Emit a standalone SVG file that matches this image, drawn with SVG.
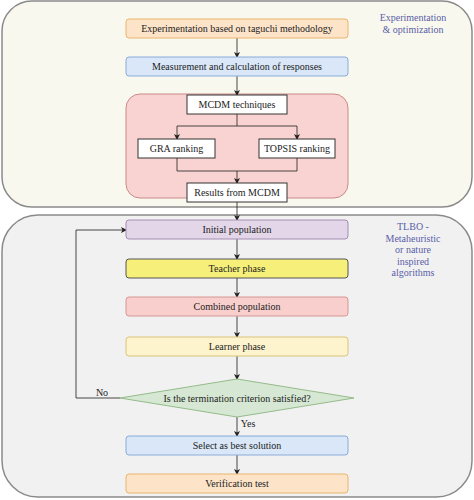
<svg xmlns="http://www.w3.org/2000/svg" width="474" height="500" viewBox="0 0 474 500">
<defs>
<marker id="ah" markerWidth="6" markerHeight="6" refX="5" refY="3" orient="auto" markerUnits="userSpaceOnUse">
<path d="M0,0 L6,3 L0,6 L1.5,3 Z" fill="#222"/>
</marker>
<style>
text{font-family:"Liberation Serif","DejaVu Serif",serif;font-size:10px;fill:#222;text-anchor:middle}
.side{fill:#5a5fa8;font-size:10px}
.cont{stroke:#8a8a8a;stroke-width:1.5}
.box{stroke-width:1}
.c{fill:none;stroke:#333;stroke-width:0.9}
</style>
</defs>
<rect width="474" height="500" fill="#ffffff"/>
<g id="container-top">
<rect class="cont" x="2" y="1" width="470" height="206" rx="30" ry="30" fill="#f9f8ee"/>
<text class="side" x="413" y="21">Experimentation</text>
<text class="side" x="413" y="33">&amp; optimization</text>
</g>
<g id="container-bottom">
<rect class="cont" x="2" y="215" width="470" height="282" rx="36" ry="36" fill="#f1f1f1"/>
<text class="side" x="413" y="230">TLBO -</text>
<text class="side" x="413" y="241.5">Metaheuristic</text>
<text class="side" x="413" y="253">or nature</text>
<text class="side" x="413" y="264.5">inspired</text>
<text class="side" x="413" y="276">algorithms</text>
</g>
<g id="mcdm-group">
<rect x="126" y="94" width="222" height="104" rx="14" ry="14" fill="#f9d3d1" stroke="#c98a86" stroke-width="1"/>
</g>
<g id="connectors">
<line class="c" x1="237" y1="38" x2="237" y2="57" marker-end="url(#ah)"/>
<line class="c" x1="237" y1="76" x2="237" y2="95" marker-end="url(#ah)"/>
<polyline class="c" points="237,114 237,126 177,126 177,139" marker-end="url(#ah)"/>
<polyline class="c" points="237,126 297,126 297,139" marker-end="url(#ah)"/>
<polyline class="c" points="177,158 177,171 297,171 297,158"/>
<line class="c" x1="237" y1="171" x2="237" y2="183" marker-end="url(#ah)"/>
<line class="c" x1="237" y1="202" x2="237" y2="220" marker-end="url(#ah)"/>
<line class="c" x1="237" y1="239" x2="237" y2="259" marker-end="url(#ah)"/>
<line class="c" x1="237" y1="278" x2="237" y2="297" marker-end="url(#ah)"/>
<line class="c" x1="237" y1="316" x2="237" y2="337" marker-end="url(#ah)"/>
<line class="c" x1="237" y1="356" x2="237" y2="379" marker-end="url(#ah)"/>
<polyline class="c" points="120,398 76,398 76,230 126,230" marker-end="url(#ah)" stroke="#666"/>
<line class="c" x1="237" y1="417" x2="237" y2="436" marker-end="url(#ah)"/>
<line class="c" x1="237" y1="455" x2="237" y2="474" marker-end="url(#ah)"/>
<text x="102" y="396">No</text>
<text x="248" y="427">Yes</text>
</g>
<g id="n-experimentation">
<rect class="box" x="126" y="19" width="222" height="19" rx="3" fill="#fde4c8" stroke="#e9b46e"/>
<text x="237" y="32">Experimentation based on taguchi methodology</text>
</g>
<g id="n-measurement">
<rect class="box" x="126" y="57" width="222" height="19" rx="3" fill="#d9e7f8" stroke="#8aabd9"/>
<text x="237" y="70">Measurement and calculation of responses</text>
</g>
<g id="n-mcdm">
<rect class="box" x="187" y="95" width="100" height="19" fill="#ffffff" stroke="#333"/>
<text x="237" y="108">MCDM techniques</text>
</g>
<g id="n-gra">
<rect class="box" x="138" y="139" width="77" height="19" fill="#ffffff" stroke="#333"/>
<text x="176.5" y="152">GRA ranking</text>
</g>
<g id="n-topsis">
<rect class="box" x="259" y="139" width="76" height="19" fill="#ffffff" stroke="#333"/>
<text x="297" y="152">TOPSIS ranking</text>
</g>
<g id="n-results">
<rect class="box" x="187" y="183" width="100" height="19" fill="#ffffff" stroke="#333"/>
<text x="237" y="196">Results from MCDM</text>
</g>
<g id="n-initial">
<rect class="box" x="126" y="220" width="222" height="19" rx="3" fill="#e2d6e8" stroke="#a58db5"/>
<text x="237" y="233">Initial population</text>
</g>
<g id="n-teacher">
<rect class="box" x="126" y="259" width="222" height="19" rx="3" fill="#f6f07a" stroke="#555"/>
<text x="237" y="272">Teacher phase</text>
</g>
<g id="n-combined">
<rect class="box" x="126" y="297" width="222" height="19" rx="3" fill="#f9cfcd" stroke="#d49794"/>
<text x="237" y="310">Combined population</text>
</g>
<g id="n-learner">
<rect class="box" x="126" y="337" width="222" height="19" rx="3" fill="#fdf3cc" stroke="#dcc27a"/>
<text x="237" y="350">Learner phase</text>
</g>
<g id="n-decision">
<polygon points="237,379 354,398 237,417 120,398" fill="#d6e8d3" stroke="#95bb8a" stroke-width="1"/>
<text x="237" y="401.5">Is the termination criterion satisfied?</text>
</g>
<g id="n-select">
<rect class="box" x="126" y="436" width="222" height="19" rx="3" fill="#d9e7f8" stroke="#8aabd9"/>
<text x="237" y="449">Select as best solution</text>
</g>
<g id="n-verification">
<rect class="box" x="126" y="474" width="222" height="19" rx="3" fill="#fde4c8" stroke="#e9b46e"/>
<text x="237" y="487">Verification test</text>
</g>
</svg>
